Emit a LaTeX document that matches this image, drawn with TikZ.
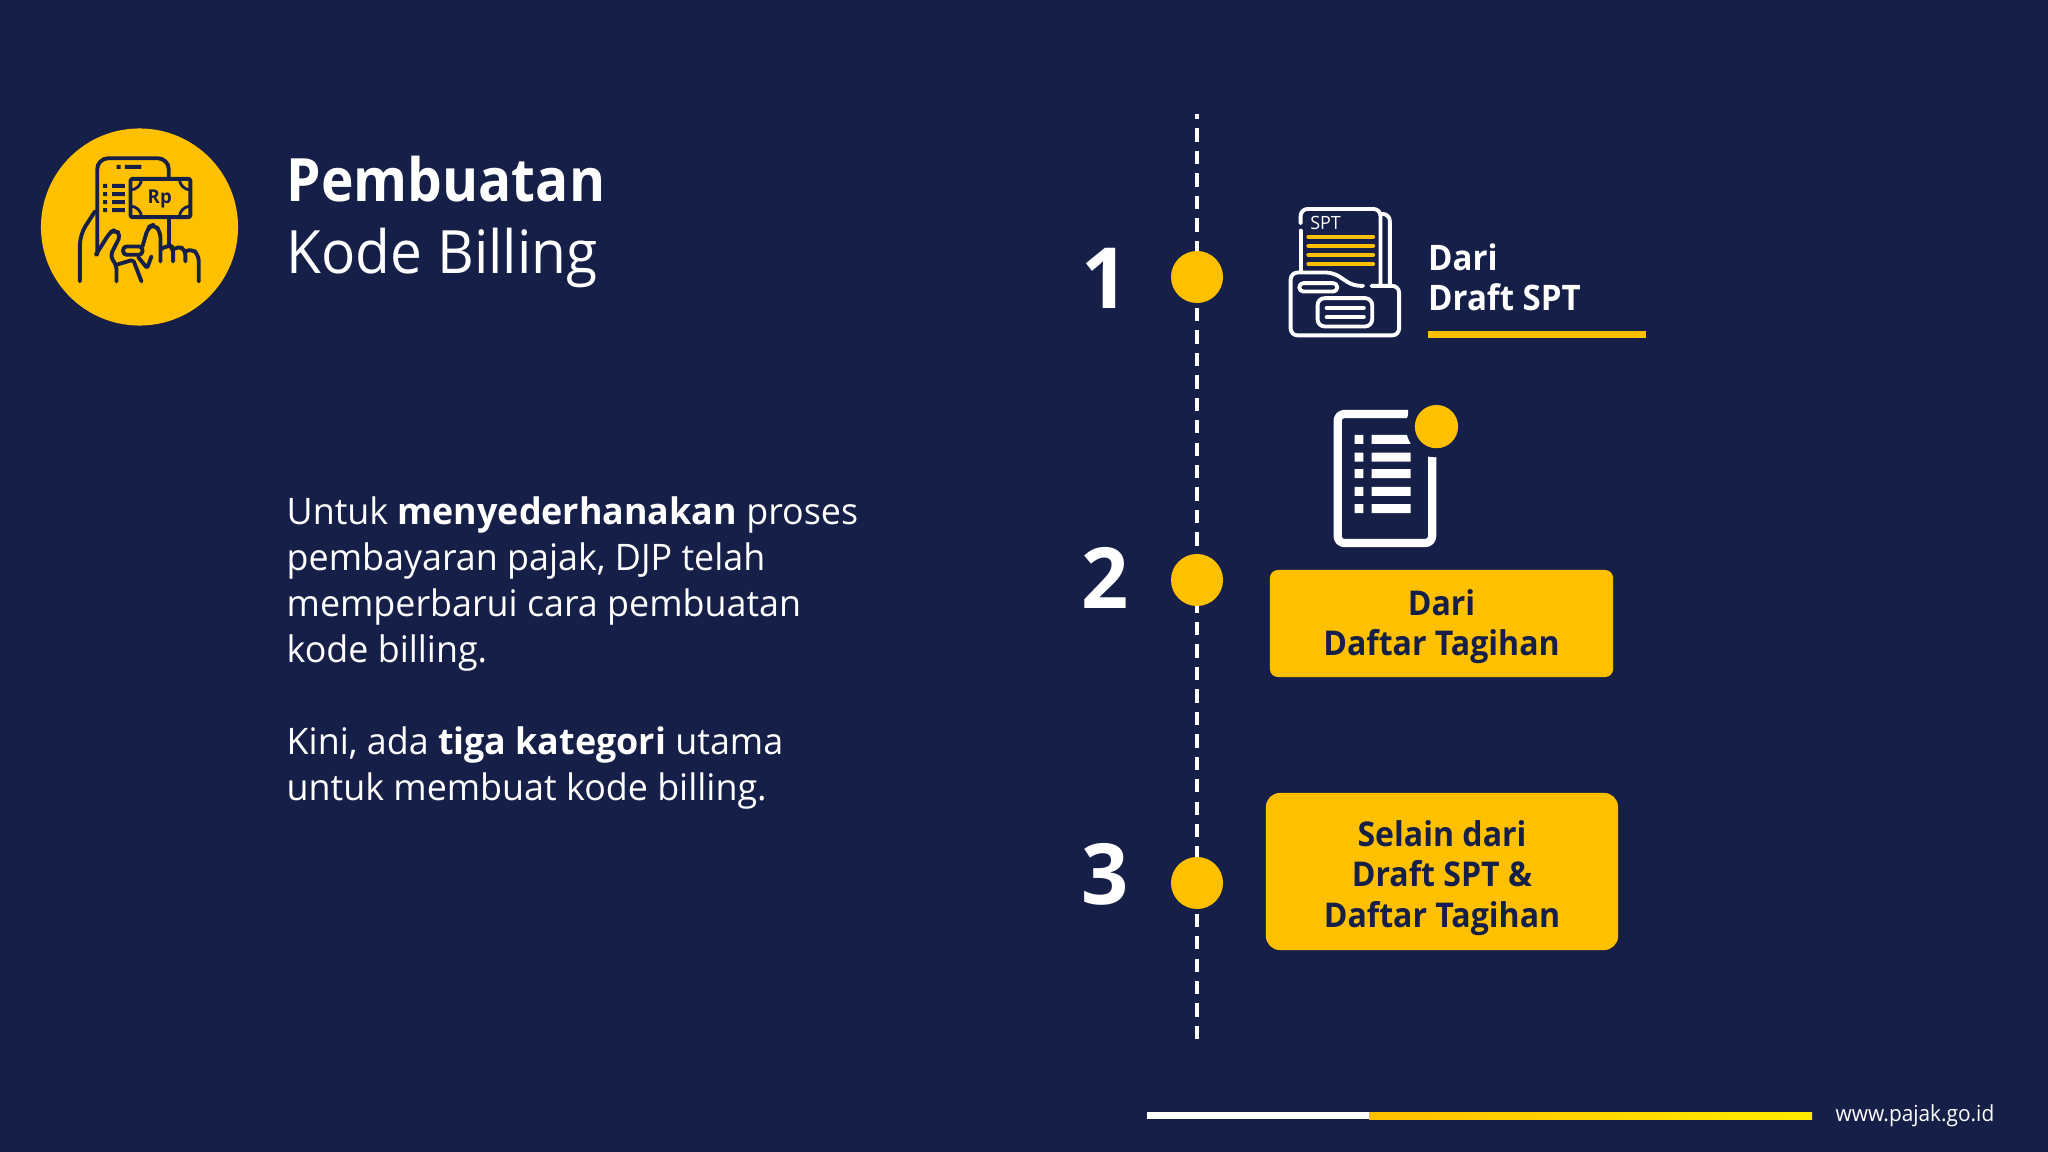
\documentclass[tikz,border=0pt]{standalone}
\usepackage{fontspec}
\setmainfont[FakeStretch=0.98]{Open Sans}
\newfontfamily\titlefont[FakeStretch=0.92]{Open Sans}
\newfontfamily\sublinefont[FakeStretch=0.95]{Open Sans}
\newfontfamily\tightfont[FakeStretch=0.94]{Open Sans}
\usetikzlibrary{positioning}
\definecolor{navy}{HTML}{161F47}
\definecolor{amber}{HTML}{FFC000}
\definecolor{lemon}{HTML}{FFEC00}
\tikzset{
  label/.style={text=white,inner sep=0pt,anchor=base west},
  num/.style={text=white,inner sep=0pt,anchor=base,font=\fontsize{24}{24}\selectfont\bfseries},
  dot/.style={fill=amber,circle,minimum size=0.52cm,inner sep=0pt},
  badge/.style={fill=amber,rounded corners=0.08cm,inner sep=0pt,text=navy,align=center,
    font=\tightfont\fontsize{9.7}{11.6}\selectfont\bfseries},
  para/.style={text=white,inner sep=0pt,anchor=north west,align=left,
    font=\fontsize{10.4}{13.05}\selectfont},
  handline/.style={draw=navy,line width=1.1pt,line cap=round,line join=round,rounded corners=0.05cm},
  foldline/.style={draw=white,line width=1.1pt,line cap=round,line join=round,rounded corners=0.07cm},
}
\begin{document}
\begin{tikzpicture}[x=0.01cm,y=-0.01cm]
  \useasboundingbox (0,0) rectangle (2048,1152);
  \fill[navy] (0,0) rectangle (2048,1152);

  \node (coin) [fill=amber,circle,minimum size=1.97cm,inner sep=0pt] at (139.5,227) {};
  \begin{scope}[shift={(20,110)},x=0.003333cm,y=-0.003333cm]
    \draw[handline,rounded corners=0.11cm] (232,435) -- (232,145) -- (447,145) -- (447,205);
    \draw[handline] (447,325) -- (447,408);
    \fill[navy] (290,165) rectangle (302,177) (315,165) rectangle (365,177);
    \foreach \rowy in {222,247,271,295} {
      \fill[navy] (250,\rowy) rectangle +(12,12) (277,\rowy) rectangle +(38,12);
    }
    \draw[handline,rounded corners=0.02cm] (332,207) rectangle (512,322);
    \draw[navy,line width=0.8pt] (332,240) .. controls (350,240) and (365,225) .. (365,207)
      (479,207) .. controls (479,225) and (494,240) .. (512,240)
      (332,289) .. controls (350,289) and (365,304) .. (365,322)
      (479,322) .. controls (479,304) and (494,289) .. (512,289);
    \node (rp) [text=navy,inner sep=0pt,font=\fontsize{5.4}{6}\selectfont\bfseries] at (420,267) {Rp};
    \draw[handline,rounded corners=0.1cm] (180,515) -- (180,375) -- (225,305);
    \draw[handline,rounded corners=0.05cm] (228,435) -- (270,368) -- (285,360) -- (303,375) -- (270,440) -- (290,465) -- (290,515);
    \draw[handline,rounded corners=0.02cm] (290,465) -- (340,450) -- (365,515);
    \draw[handline,rounded corners=0.035cm] (310,410) rectangle (368,435);
    \draw[handline,rounded corners=0.06cm] (368,410) -- (385,352) -- (403,344) -- (422,365) -- (422,455);
    \draw[handline,rounded corners=0.02cm] (355,442) -- (382,475) -- (395,440);
    \draw[handline,rounded corners=0.05cm] (425,418) -- (445,405) -- (460,412) -- (460,455);
    \draw[handline,rounded corners=0.05cm] (460,420) -- (475,408) -- (497,420) -- (497,455);
    \draw[handline,rounded corners=0.06cm] (497,425) -- (515,416) -- (537,435) -- (537,515);
  \end{scope}

  \node (titlea) [label,font=\titlefont\fontsize{17}{20}\selectfont\bfseries] at (286,202) {Pembuatan};
  \node (titleb) [label,font=\sublinefont\fontsize{17}{20}\selectfont] at (286,274) {Kode Billing};

  \node (bodya) [para] at (286,496) {Untuk \textbf{menyederhanakan} proses\\pembayaran pajak, DJP telah\\memperbarui cara pembuatan\\kode billing.};
  \node (bodyb) [para] at (286,726) {Kini, ada \textbf{tiga kategori} utama\\untuk membuat kode billing.};

  \coordinate (railtop) at (1197,114);
  \coordinate (railend) at (1197,1039);
  \draw[white,line width=1.1pt,dash pattern=on 3.8pt off 2.58pt,dash phase=2.28pt] (railtop) -- (railend);

  \node (dot1) [dot] at (1197,277) {};
  \node (dot2) [dot] at (1197,580) {};
  \node (dot3) [dot] at (1197,883) {};
  \node (n1) [num] at (1105,309) {1};
  \node (n2) [num] at (1105,608) {2};
  \node (n3) [num] at (1105,904) {3};

  \begin{scope}[shift={(1270,190)},x=0.003333cm,y=-0.003333cm]
    \draw[foldline] (92,100) -- (92,57) -- (332,57) -- (332,282);
    \draw[foldline] (92,122) -- (92,245);
    \draw[foldline] (335,72) -- (360,72) -- (360,285);
    \node (spt) [text=white,inner sep=0pt,font=\fontsize{5.2}{6}\selectfont] at (167,100) {SPT};
    \foreach \liney in {140,167,195,222} {
      \draw[amber,line width=1.1pt,line cap=round] (115,\liney) -- (310,\liney);
    }
    \draw[foldline] (280,288) -- (250,288) -- (190,248) -- (62,248) -- (62,437) -- (388,437) -- (388,288) -- (305,288);
    \draw[foldline,rounded corners=0.04cm] (88,280) rectangle (202,305);
    \draw[foldline] (143,325) rectangle (307,410);
    \draw[white,line width=1.1pt,line cap=round] (170,354) -- (282,354) (170,382) -- (282,382);
  \end{scope}
  \node (sptlabel) [label,font=\tightfont\fontsize{10}{12}\selectfont\bfseries] at (1427.5,271) {Dari};
  \node (sptlabelb) [label,font=\tightfont\fontsize{10}{12}\selectfont\bfseries] at (1427.5,311) {Draft SPT};
  \fill[amber] (1427.5,331) rectangle (1646,338);

  \begin{scope}[shift={(1310,390)},x=0.003333cm,y=-0.003333cm]
    \draw[foldline,line width=2.35pt,line cap=butt] (295,72) -- (83,72) -- (83,460) -- (367,460) -- (367,200);
    \foreach \rowy in {135,188,238,291,343} {
      \fill[white] (134,\rowy) rectangle +(26,27) (185,\rowy) rectangle +(117,27);
    }
    \fill[navy] (380,110) circle (92);
    \fill[amber] (380,110) circle (65);
  \end{scope}

  \node (tagihan) [badge,minimum width=3.43cm,minimum height=1.07cm] at (1441.5,623.5) {\rule{0pt}{3.2mm}Dari\\Daftar Tagihan};
  \node (selain) [badge,rounded corners=0.14cm,minimum width=3.52cm,minimum height=1.57cm] at (1442,871.5) {\rule{0pt}{3.9mm}Selain dari\\Draft SPT \&\\Daftar Tagihan};

  \fill[white] (1147,1112) rectangle (1369,1119);
  \shade[left color=amber,right color=lemon] (1369,1112) rectangle (1812,1119);
  \node (web) [label,font=\tightfont\fontsize{6.3}{8}\selectfont] at (1835,1121) {www.pajak.go.id};
\end{tikzpicture}
\end{document}
